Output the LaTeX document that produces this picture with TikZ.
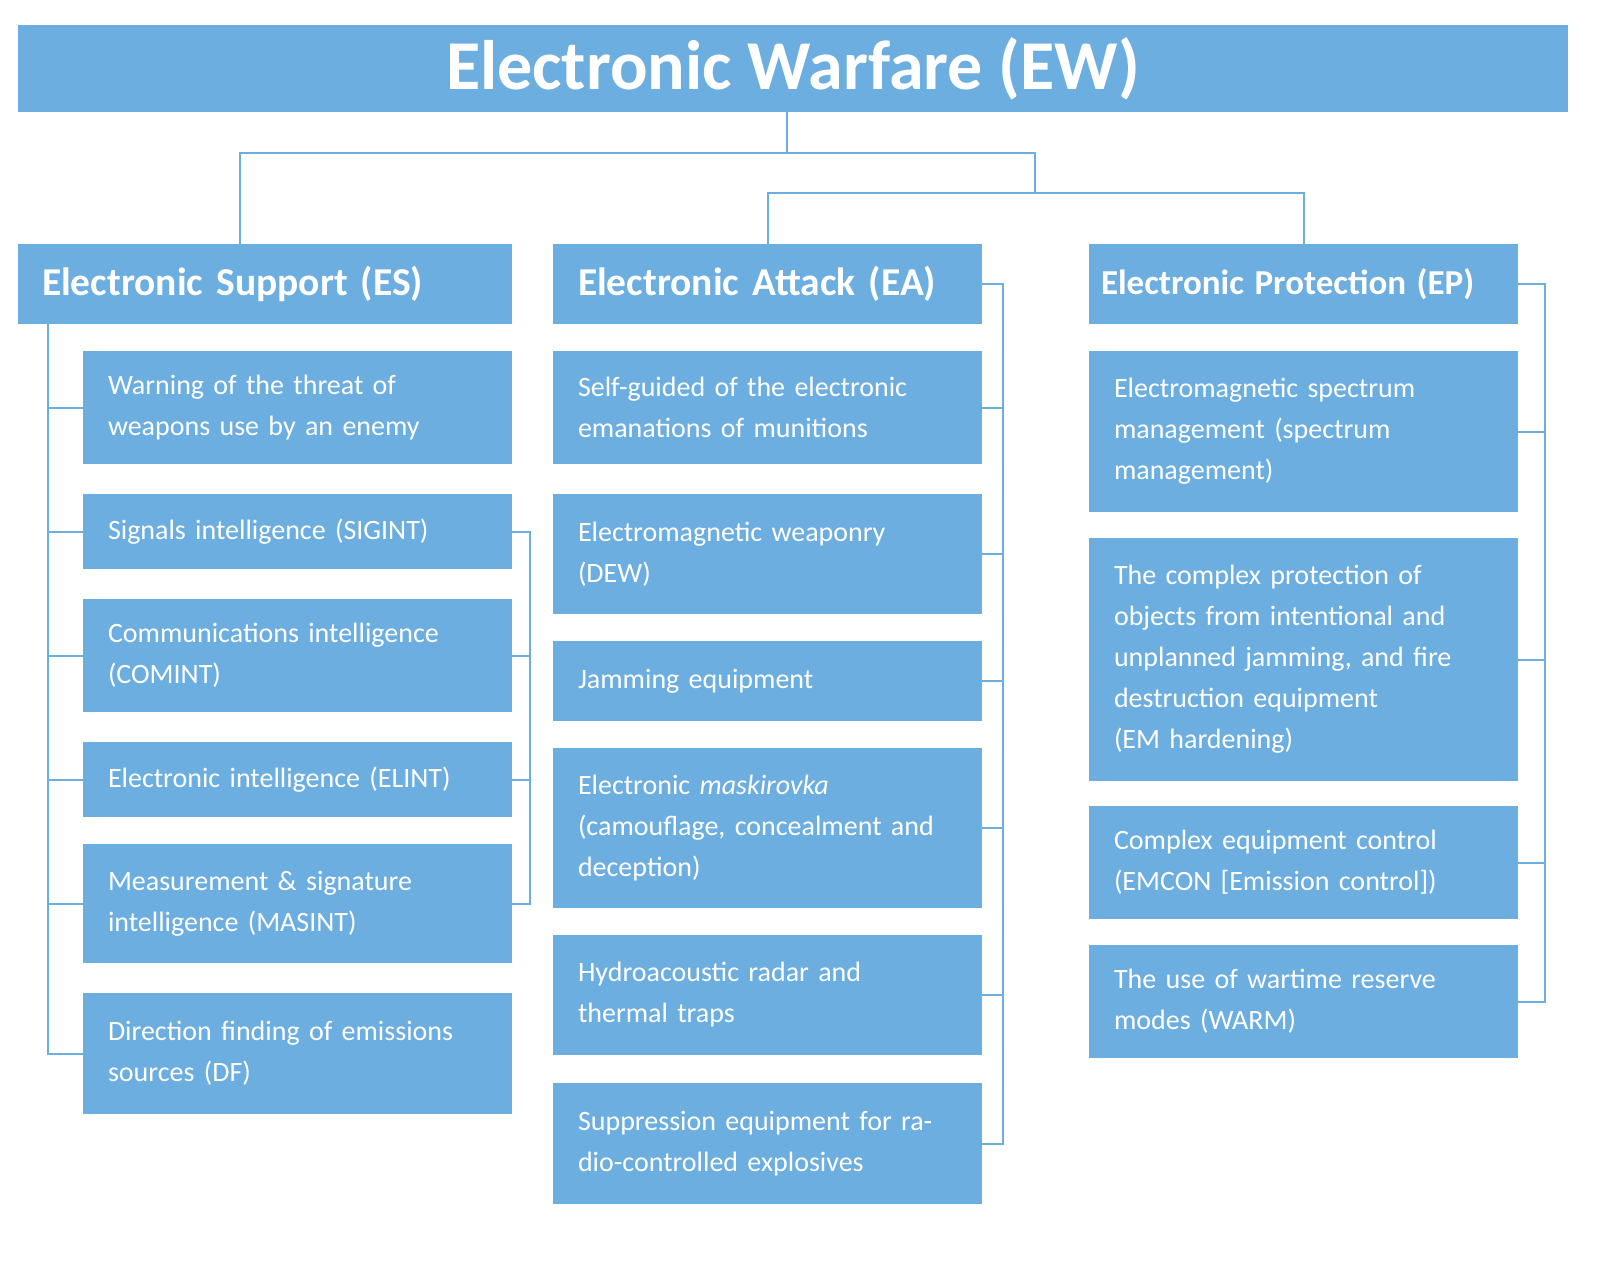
\documentclass[tikz,border=0pt]{standalone}
\usepackage{fontspec}
\setmainfont{Carlito}
\definecolor{ewblue}{HTML}{6CAEE0}
\begin{document}
\begin{tikzpicture}[x=1pt,y=-1pt,
  box/.style={fill=ewblue,text=white,inner sep=0pt,minimum width=429pt,text width=379pt,align=left,font=\fontsize{28}{41}\selectfont},
  head/.style={fill=ewblue,text=white,inner sep=0pt,minimum height=80pt,align=left,font=\bfseries\fontsize{39.5}{44}\selectfont},
  conn/.style={draw=ewblue,line width=2pt}]
\useasboundingbox (0,0) rectangle (1599,1262);
\node[fill=ewblue,text=white,minimum width=1550pt,minimum height=87pt,inner sep=0pt,font=\bfseries\fontsize{70}{76}\selectfont] (title) at (793,68.5) {Electronic Warfare (EW)};
\node[head,minimum width=494pt,text width=446pt] (es) at (265,284) {Electronic Support (ES)};
\node[head,minimum width=429pt,text width=379pt] (ea) at (767.5,284) {Electronic Attack (EA)};
\node[head,minimum width=429pt,text width=403pt,font=\bfseries\fontsize{35}{40}\selectfont] (ep) at (1303.5,284) {\hspace*{-1pt}Electronic\hspace{-1pt} Protection\hspace{-1pt} (EP)};
% ES
\node[box,minimum height=113pt] (es1) at (297.5,407.5) {Warning of the threat of\\weapons use by an enemy};
\node[box,minimum height=75pt] (es2) at (297.5,531.5) {Signals intelligence (SIGINT)};
\node[box,minimum height=113pt] (es3) at (297.5,655.5) {Communications intelligence\\(COMINT)};
\node[box,minimum height=75pt] (es4) at (297.5,779.5) {Electronic intelligence (ELINT)};
\node[box,minimum height=119pt] (es5) at (297.5,903.5) {Measurement \& signature\\intelligence (MASINT)};
\node[box,minimum height=121pt] (es6) at (297.5,1053.5) {Direction finding of emissions\\sources (DF)};
% EA
\node[box,minimum height=113pt] (ea1) at (767.5,407.5) {Self-guided of the electronic\\emanations of munitions};
\node[box,minimum height=120pt] (ea2) at (767.5,554) {Electromagnetic weaponry\\(DEW)};
\node[box,minimum height=80pt] (ea3) at (767.5,681) {Jamming equipment};
\node[box,minimum height=160pt] (ea4) at (767.5,828) {Electronic \textit{maskirovka}\\(camouflage, concealment and\\deception)};
\node[box,minimum height=120pt] (ea5) at (767.5,995) {Hydroacoustic radar and\\thermal traps};
\node[box,minimum height=121pt] (ea6) at (767.5,1143.5) {Suppression equipment for ra-\\dio-controlled explosives};
% EP
\node[box,minimum height=161pt] (ep1) at (1303.5,431.5) {Electromagnetic spectrum\\management (spectrum\\management)};
\node[box,minimum height=243pt] (ep2) at (1303.5,659.5) {The complex protection of\\objects from intentional and\\unplanned jamming, and fire\\destruction equipment\\(EM hardening)};
\node[box,minimum height=113pt] (ep3) at (1303.5,862.5) {Complex equipment control\\(EMCON [Emission control])};
\node[box,minimum height=113pt] (ep4) at (1303.5,1001.5) {The use of wartime reserve\\modes (WARM)};
% top connectors
\coordinate (j1) at (787,153);
\coordinate (j2) at (1035,193);
\draw[conn] (title.south -| j1) -- (j1);
\draw[conn] (es.north -| 240,0) |- (1035,153) -- (j2);
\draw[conn] (ea.north) |- (j2) -| (ep.north);
% ES bus
\coordinate (esb) at (48,0);
\draw[conn] (es.south -| esb) |- (es6.west);
\foreach \n in {es1,es2,es3,es4,es5} \draw[conn] (\n.west) -- (\n.west -| esb);
\coordinate (sb) at (530,0);
\draw[conn] (es2.east) -| (es5.east -| sb) -- (es5.east);
\foreach \n in {es3,es4} \draw[conn] (\n.east) -- (\n.east -| sb);
% EA bus
\coordinate (eab) at (1003,0);
\draw[conn] (ea.east) -| (ea6.east -| eab) -- (ea6.east);
\foreach \n in {ea1,ea2,ea3,ea4,ea5} \draw[conn] (\n.east) -- (\n.east -| eab);
% EP bus
\coordinate (epb) at (1545,0);
\draw[conn] (ep.east) -| (ep4.east -| epb) -- (ep4.east);
\foreach \n in {ep1,ep2,ep3} \draw[conn] (\n.east) -- (\n.east -| epb);
\end{tikzpicture}
\end{document}
